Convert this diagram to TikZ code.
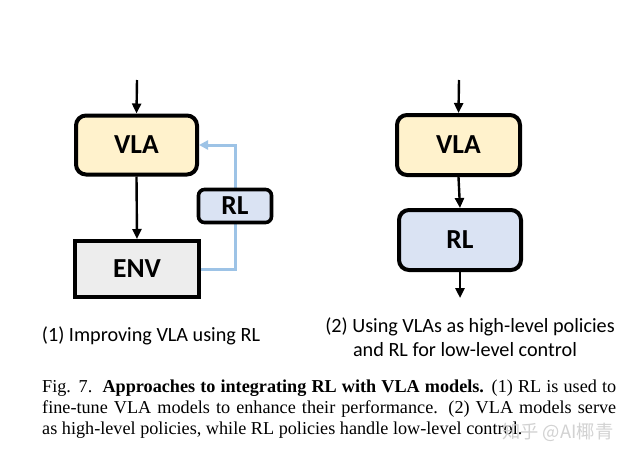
\documentclass[tikz,border=0pt]{standalone}
\usepackage{fontspec}
\setmainfont{Liberation Serif}
\newfontfamily\calib{Carlito}
\newfontfamily\cjk{Noto Sans CJK SC}
\usetikzlibrary{arrows.meta}
\definecolor{vlafill}{HTML}{FFF2CC}
\definecolor{rlfill}{HTML}{DAE3F3}
\definecolor{envfill}{HTML}{EDEDED}
\definecolor{fbblue}{HTML}{9DC3E6}
\tikzset{
  blk/.style={draw=black, line width=4pt, font=\calib\bfseries\fontsize{27.5}{30}\selectfont, inner sep=0pt},
  rbox/.style={blk, rounded corners=10pt},
  arr/.style={line width=2.4pt, -{Triangle[length=10pt,width=9pt]}},
  lbl/.style={font=\calib\fontsize{20.2}{24}\selectfont, inner sep=0pt}
}
\begin{document}
\begin{tikzpicture}[x=1pt,y=-1pt]
\useasboundingbox[fill=white] (0,0) rectangle (631,463);
% left diagram
\node[rbox, fill=vlafill, minimum width=121pt, minimum height=59pt] (vla1) at (136.5,145) {VLA};
\node[blk, fill=envfill, minimum width=124pt, minimum height=56pt] (env) at (137,269) {ENV};
\coordinate (in1) at (137,80);
\draw[arr] (in1) -- (vla1.north);
\draw[arr] (vla1.south) -- (env.north);
\draw[line width=3pt, fbblue, -{Triangle[length=9pt,width=9pt]}] (env.east) -- ++(34,0) |- (vla1.east);
\node[rbox, rounded corners=6pt, line width=3.6pt, fill=rlfill, minimum width=73pt, minimum height=33pt] (rl1) at (235,206) {RL};
\node[lbl] (cap1) at (151,336) {(1) Improving VLA using RL};
% right diagram
\node[rbox, fill=vlafill, minimum width=123pt, minimum height=60pt] (vla2) at (458.5,145) {VLA};
\node[rbox, fill=rlfill, minimum width=122pt, minimum height=60pt] (rl2) at (460,240) {RL};
\coordinate (in2) at (459,80);
\coordinate (out2) at (460,298);
\draw[arr] (in2) -- (vla2.north);
\draw[arr] (vla2.south) -- (rl2.north);
\draw[arr] (rl2.south) -- (out2);
\node[lbl] (cap2a) at (470,327) {(2) Using VLAs as high-level policies};
\node[lbl] (cap2b) at (465,350) {and RL for low-level control};
% caption
\node[anchor=north west, inner sep=0pt, text width=574pt, align=justify, font=\fontsize{18.2}{20.8}\selectfont] (caption) at (42,380)
{Fig. 7.\ \ \textbf{Approaches to integrating RL with VLA models.} (1) RL is used to\linebreak fine-tune VLA models to enhance their performance. (2) VLA models serve\linebreak as high-level policies, while RL policies handle low-level control.};
% watermark
\node[anchor=west, inner sep=0pt, text=gray!35, font=\cjk\fontsize{18.3}{20}\selectfont] (wm) at (502,432) {知乎 @AI椰青};
\end{tikzpicture}
\end{document}
